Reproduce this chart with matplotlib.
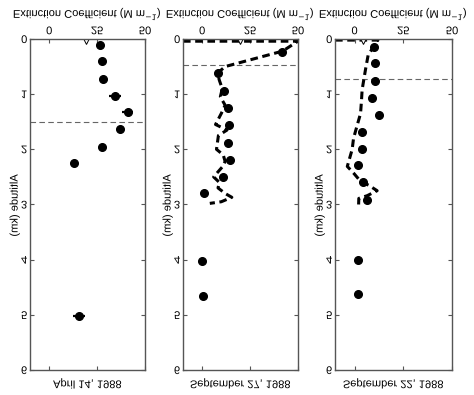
import matplotlib
matplotlib.use("Agg")
import matplotlib.pyplot as plt
from matplotlib.patheffects import AbstractPathEffect
from matplotlib.transforms import Affine2D

# el grafico original aparece volteado verticalmente (texto en espejo)
class VFlip(AbstractPathEffect):
    def draw_path(self, renderer, gc, tpath, affine, rgbFace=None):
        ext = tpath.get_extents(affine)
        cy = (ext.y0 + ext.y1) / 2
        flip = Affine2D().translate(0, -cy).scale(1, -1).translate(0, cy)
        renderer.draw_path(gc, tpath, affine + flip, rgbFace)

plt.rcParams['font.family'] = ['Liberation Sans', 'DejaVu Sans']
plt.rcParams['font.size'] = 8

fechas = ["April 14, 1988", "September 27, 1988", "September 22, 1988"]
xlabel = "Extinction Coefficient (M m$^{-1}$)"
ylabel = "Altitude (km)"
xticks = [0, 25, 50]
yticks = [0, 1, 2, 3, 4, 5, 6]

# puntos medidos (coeficiente, altitud)
abr_x = [26.6, 27.4, 28.3, 34.4, 41.0, 37.0, 27.8, 13.2, 15.6]
abr_alt = [0.11, 0.40, 0.72, 1.03, 1.33, 1.64, 1.96, 2.25, 5.03]
abr_err = [0, 0, 0, 3, 3, 0, 0, 0, 3]
abr_abierto = (19.3, 0.03)
abr_capa = 1.50

s27_x = [41.5, 8.5, 11.5, 13.7, 14.0, 13.7, 14.6, 10.8, 1.2, -0.2, 0.7]
s27_alt = [0.23, 0.62, 0.95, 1.26, 1.56, 1.88, 2.19, 2.50, 2.80, 4.02, 4.66]
s27_abierto = (20.0, 0.03)
s27_capa = 0.48
s27_perfil_x = [-10, 50, 42, 12, 8, 9, 10.5, 9.5, 12, 10, 7, 13, 8.5, 7.5, 11, 12, 10.5,
                6, 9, 8.3, 12, 15.5, 10, 4]
s27_perfil_alt = [0.04, 0.04, 0.22, 0.50, 0.62, 0.75, 0.90, 1.05, 1.20, 1.35, 1.55, 1.65,
                  1.75, 2.00, 2.10, 2.22, 2.32, 2.50, 2.60, 2.70, 2.80, 2.87, 2.95, 2.98]

s22_x = [10.2, 10.7, 10.7, 9.0, 12.4, 3.6, 3.9, 1.9, 4.4, 6.5, 1.9, 1.9]
s22_alt = [0.15, 0.44, 0.76, 1.07, 1.38, 1.69, 1.99, 2.28, 2.60, 2.92, 4.00, 4.62]
s22_abierto = (4.6, 0.03)
s22_capa = 0.73
s22_perfil_x = [-10, 12, 7, 5.6, 3.9, 3.6, 3.1, 1.4, -0.5, -1.2, -3.7, -0.5, 3.1, 7.2,
                11.6, 6.5, 2.2, 2.1]
s22_perfil_alt = [0.02, 0.02, 0.29, 0.56, 0.92, 1.10, 1.35, 1.56, 1.80, 2.00, 2.31, 2.43,
                  2.58, 2.65, 2.75, 2.84, 2.89, 3.00]

fig = plt.figure(figsize=(4.74, 3.95), dpi=100)
posiciones = [[0.0633, 0.0633, 0.2426, 0.838],
              [0.386, 0.0633, 0.2426, 0.838],
              [0.7068, 0.0633, 0.2468, 0.838]]
ejes = [fig.add_axes(p) for p in posiciones]

datos = [
    (abr_x, abr_alt, abr_err, abr_abierto, abr_capa, None, None),
    (s27_x, s27_alt, None, s27_abierto, s27_capa, s27_perfil_x, s27_perfil_alt),
    (s22_x, s22_alt, None, s22_abierto, s22_capa, s22_perfil_x, s22_perfil_alt),
]

for ax, fecha, (px, palt, perr, abierto, capa, lx, lalt) in zip(ejes, fechas, datos):
    ax.axhline(capa, color='#666666', lw=0.8, dashes=(5, 3))
    if lx is not None:
        ax.plot(lx, lalt, color='black', lw=2.2, dashes=(2.5, 1.5))
    if perr is not None:
        ax.errorbar(px, palt, xerr=perr, fmt='o', color='black', ms=5.5, elinewidth=1.6, capsize=0)
    else:
        ax.plot(px, palt, 'o', color='black', ms=5.5)
    ax.plot(abierto[0], abierto[1], 'v', mfc='white', mec='black', ms=5, mew=0.7)

    ax.set_xlim(-10, 50)
    ax.set_ylim(6, 0)
    ax.set_xticks(xticks)
    ax.set_yticks(yticks)
    ax.xaxis.tick_top()
    ax.xaxis.set_label_position('top')
    ax.tick_params(direction='in', length=3, width=0.8, color='#555555', pad=2,
                   top=True, bottom=True, left=True, right=True, labelbottom=False)
    for sp in ax.spines.values():
        sp.set_color('#555555')
        sp.set_linewidth(1)
    ax.set_xlabel(xlabel, labelpad=6)
    ax.set_ylabel(ylabel, labelpad=1)
    t = ax.text(0.5, -0.04, fecha, transform=ax.transAxes, ha='center', va='center')

    textos = [ax.xaxis.label, ax.yaxis.label, t] + ax.get_xticklabels() + ax.get_yticklabels()
    for txt in textos:
        txt.set_path_effects([VFlip()])

fig.savefig("out.png", dpi=100)
